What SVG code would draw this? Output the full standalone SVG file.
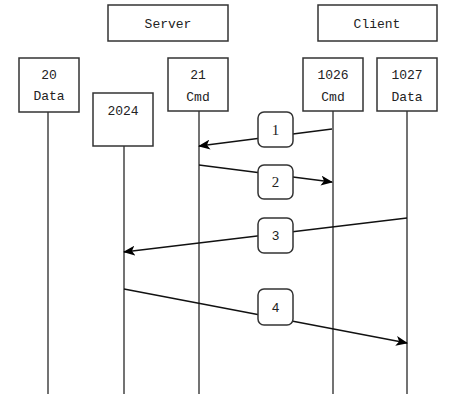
<svg xmlns="http://www.w3.org/2000/svg" width="474" height="406" viewBox="0 0 474 406">
<style>
.box{fill:#fff;stroke:#333;stroke-width:1.5}
.lbl{fill:#fff;stroke:#333;stroke-width:1.5}
.life{stroke:#444;stroke-width:1.5;fill:none}
.msg{stroke:#111;stroke-width:1.3;fill:none}
.t{font-family:"Liberation Mono",monospace;font-size:13px;fill:#222;text-anchor:middle}
.n{font-family:"Liberation Serif",serif;font-size:15px;fill:#222;text-anchor:middle}
.ns{font-family:"Liberation Sans",sans-serif;font-size:13px;fill:#222;text-anchor:middle}
</style>
<defs>
<marker id="ah" viewBox="0 0 12 10" refX="11" refY="5" markerWidth="12" markerHeight="10" markerUnits="userSpaceOnUse" orient="auto">
<path d="M0,0 L12,5 L0,10 L3,5 Z" fill="#000"/>
</marker>
</defs>
<rect width="474" height="406" fill="#fff"/>
<g id="lifelines">
<line class="life" x1="48" y1="112" x2="48" y2="394"/>
<line class="life" x1="124" y1="146" x2="124" y2="394"/>
<line class="life" x1="199" y1="111" x2="199" y2="394"/>
<line class="life" x1="333" y1="111" x2="333" y2="394"/>
<line class="life" x1="407" y1="111" x2="407" y2="394"/>
</g>
<g id="server"><rect class="box" x="108" y="5" width="120" height="36"/><text class="t" x="168" y="28">Server</text></g>
<g id="client"><rect class="box" x="318" y="5" width="119" height="36"/><text class="t" x="377" y="28">Client</text></g>
<g id="p20"><rect class="box" x="19" y="58" width="60" height="54"/><text class="t" x="49" y="79">20</text><text class="t" x="49" y="100">Data</text></g>
<g id="p2024"><rect class="box" x="93" y="93" width="60" height="53"/><text class="t" x="123" y="115">2024</text></g>
<g id="p21"><rect class="box" x="168" y="58" width="60" height="53"/><text class="t" x="198" y="79">21</text><text class="t" x="198" y="101">Cmd</text></g>
<g id="p1026"><rect class="box" x="303" y="58" width="60" height="53"/><text class="t" x="333" y="79">1026</text><text class="t" x="333" y="101">Cmd</text></g>
<g id="p1027"><rect class="box" x="377" y="58" width="60" height="53"/><text class="t" x="407" y="79">1027</text><text class="t" x="407" y="101">Data</text></g>
<g id="connectors">
<line class="msg" x1="332" y1="129" x2="199" y2="146" marker-end="url(#ah)"/>
<line class="msg" x1="199" y1="165" x2="332" y2="182" marker-end="url(#ah)"/>
<line class="msg" x1="407" y1="218" x2="124" y2="252" marker-end="url(#ah)"/>
<line class="msg" x1="124" y1="289" x2="407" y2="343" marker-end="url(#ah)"/>
</g>
<g id="l1"><rect class="lbl" x="258" y="112" width="35" height="35" rx="6"/><text class="n" x="275.5" y="135">1</text></g>
<g id="l2"><rect class="lbl" x="258" y="165" width="35" height="34" rx="6"/><text class="n" x="275.5" y="187">2</text></g>
<g id="l3"><rect class="lbl" x="258" y="218" width="35" height="35" rx="6"/><text class="ns" x="275.5" y="240">3</text></g>
<g id="l4"><rect class="lbl" x="258" y="289" width="35" height="36" rx="6"/><text class="ns" x="275.5" y="312">4</text></g>
</svg>
